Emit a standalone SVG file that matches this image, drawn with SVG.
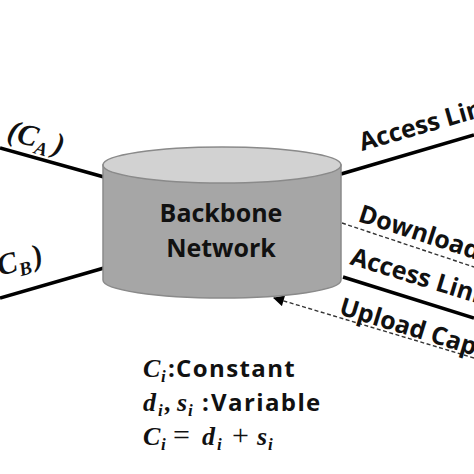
<svg xmlns="http://www.w3.org/2000/svg" width="474" height="474" viewBox="0 0 474 474">
<style>
.lbl{font-family:"Open Sans","Liberation Sans",sans-serif;font-weight:bold;font-size:25px;fill:#111}
.leg{font-family:"Open Sans","Liberation Sans",sans-serif;font-weight:bold;font-size:24px;letter-spacing:1.4px;fill:#111}
.math{font-family:"Liberation Serif","DejaVu Serif",serif;font-style:italic;font-weight:bold;font-size:26px;fill:#111}
.big{font-size:30px}
.sym{font-family:"Liberation Serif","DejaVu Serif",serif;font-size:30px;fill:#111}
.sub{font-size:17px}
.bsub{font-size:19px}
.solid{stroke:#000;stroke-width:3.5;fill:none}
.dash{stroke:#333;stroke-width:1.4;stroke-dasharray:4 2.5;fill:none}
</style>
<defs>
<marker id="ah" viewBox="0 0 10 10" refX="9" refY="5" markerWidth="12" markerHeight="11" markerUnits="userSpaceOnUse" orient="auto">
<path d="M0,0 L10,5 L0,10 z" fill="#000"/>
</marker>
</defs>
<rect width="474" height="474" fill="#fff"/>
<g id="connectors">
<line class="solid" x1="0" y1="148" x2="104" y2="177"/>
<line class="solid" x1="0" y1="298" x2="104" y2="268"/>
<line class="solid" x1="341" y1="174" x2="474" y2="135"/>
<line class="solid" x1="343" y1="277" x2="474" y2="318"/>
<line class="dash" x1="342" y1="223" x2="474" y2="267"/>
<line class="dash" x1="474" y1="358" x2="274" y2="298" marker-end="url(#ah)"/>
</g>
<g id="backbone">
<path d="M103,165 L103,280 A119,18 0 0 0 341,280 L341,165 Z" fill="#a6a6a6" stroke="#8a8a8a" stroke-width="1.5"/>
<ellipse cx="222" cy="165" rx="119" ry="18" fill="#d2d2d2" stroke="#8a8a8a" stroke-width="1.5"/>
<text class="lbl" x="221" y="222" text-anchor="middle">Backbone</text>
<text class="lbl" x="221" y="257" text-anchor="middle">Network</text>
</g>
<g id="labels">
<text class="math big" transform="translate(6,139) rotate(16)">(C<tspan class="bsub" dy="6">A</tspan><tspan dx="5" dy="-6">)</tspan></text>
<text class="math big" transform="translate(0,276) rotate(-16)">C<tspan class="bsub" dy="6">B</tspan><tspan dx="4" dy="-6">)</tspan></text>
<text class="lbl" transform="translate(362,151) rotate(-16)">Access Link</text>
<text class="lbl" transform="translate(357,221) rotate(18)">Download</text>
<text class="lbl" transform="translate(349,264) rotate(17)">Access Link</text>
<text class="lbl" transform="translate(338,314) rotate(17)">Upload Cap</text>
</g>
<g id="legend">
<text y="377"><tspan class="math" x="143">C</tspan><tspan class="math sub" x="161" dy="5">i</tspan><tspan class="leg" x="168" dy="-5">:</tspan><tspan class="leg" x="176">Constant</tspan></text>
<text y="411"><tspan class="math" x="143">d</tspan><tspan class="math sub" x="158" dy="5">i</tspan><tspan class="math" x="165" dy="-5">,</tspan><tspan class="math" x="177">s</tspan><tspan class="math sub" x="188" dy="5">i</tspan><tspan class="leg" x="202" dy="-5">:</tspan><tspan class="leg" x="211">Variable</tspan></text>
<text y="445"><tspan class="math" x="143">C</tspan><tspan class="math sub" x="161" dy="5">i</tspan><tspan class="sym" x="173" dy="-5">=</tspan><tspan class="math" x="202">d</tspan><tspan class="math sub" x="217" dy="5">i</tspan><tspan class="sym" x="232" dy="-5">+</tspan><tspan class="math" x="257">s</tspan><tspan class="math sub" x="268" dy="5">i</tspan></text>
</g>
</svg>
